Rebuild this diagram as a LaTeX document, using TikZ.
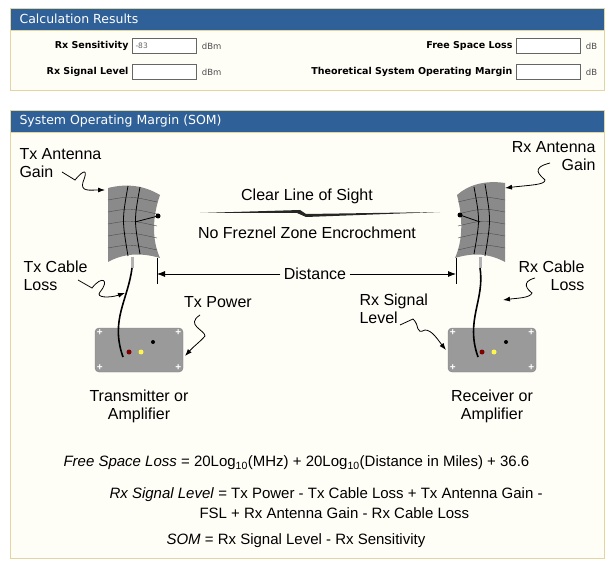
\documentclass[tikz,border=0pt]{standalone}
\usepackage{fontspec}
\setmainfont{Liberation Sans}
\newfontfamily\verd{DejaVu Sans}
\usetikzlibrary{arrows.meta}
\definecolor{barblue}{HTML}{2F6097}
\definecolor{frametan}{HTML}{E3D59F}
\definecolor{panelbg}{HTML}{FFFEF6}
\definecolor{antgray}{HTML}{8A8A8A}
\definecolor{devgray}{HTML}{9A9A9A}

\begin{document}
\begin{tikzpicture}[x=1pt,y=-1pt,
  header/.style={fill=barblue,draw=frametan},
  panel/.style={fill=panelbg,draw=frametan,thick},
  headtext/.style={anchor=west,text=white,font=\verd\fontsize{12.5}{14}\selectfont},
  formlabel/.style={anchor=east,font=\verd\bfseries\fontsize{9.5}{11}\selectfont},
  unit/.style={anchor=west,font=\verd\fontsize{8.5}{10}\selectfont,text=black!70},
  inbox/.style={draw=black!60,fill=white,minimum width=64pt,minimum height=15pt,inner sep=1pt},
  label/.style={font=\fontsize{16}{18}\selectfont,align=left},
  squig/.style={-{Latex[length=7pt,width=5pt]},thick},
  distarrow/.style={-{Latex[length=8pt,width=6pt]},thick},
  device/.style={fill=devgray,rounded corners=4pt,draw=black!50,minimum width=88pt,minimum height=44pt},
  formula/.style={anchor=west,font=\fontsize{15}{17}\selectfont}]
  \useasboundingbox (0,0) rectangle (614,567);
  \fill[white] (0,0) rectangle (614,567);

  % calculation results panel
  \draw[panel] (10,30) rectangle (604,90);
  \draw[header] (10,8) rectangle (604,30);
  \node[headtext] (calchead) at (16,19) {Calculation Results};

  \node[inbox,anchor=west] (sensbox) at (132,46) {};
  \node[anchor=west,font=\verd\fontsize{7.5}{9}\selectfont,text=black!60] at (sensbox.west) {-83};
  \node[formlabel] (senslbl) at (sensbox.west) {Rx Sensitivity};
  \node[unit] (sensunit) at ([xshift=2pt]sensbox.east) {dBm};
  \node[inbox,anchor=west] (levelbox) at (132,72) {};
  \node[formlabel] (levellbl) at (levelbox.west) {Rx Signal Level};
  \node[unit] (levelunit) at ([xshift=2pt]levelbox.east) {dBm};
  \node[inbox,anchor=west] (fslbox) at (516,46) {};
  \node[formlabel] (fsllbl) at (fslbox.west) {Free Space Loss};
  \node[unit] (fslunit) at ([xshift=2pt]fslbox.east) {dB};
  \node[inbox,anchor=west] (sombox) at (516,72) {};
  \node[formlabel] (somlbl) at (sombox.west) {Theoretical System Operating Margin};
  \node[unit] (somunit) at ([xshift=2pt]sombox.east) {dB};

  % SOM panel
  \draw[panel] (10,132) rectangle (604,558);
  \draw[header] (10,110) rectangle (604,132);
  \node[headtext] (somhead) at (16,121) {System Operating Margin (SOM)};

  % antennas
  \begin{scope}
    \fill[antgray] (108,188) .. controls (128,183) and (145,186) .. (160,195)
      .. controls (152,218) and (152,240) .. (160,258)
      .. controls (140,252) and (122,254) .. (108,262) -- cycle;
    \foreach \y in {200,212,224,236,248} \draw[black!70] (108,\y) .. controls (130,\y-4) .. (157,\y+2);
    \draw[thick] (128,186) .. controls (122,220) .. (128,256);
    \draw[thick] (140,187) .. controls (134,220) .. (140,254);
    \draw[thick] (135,222) -- (158,216);
    \fill (158,216) circle (2.5pt);
    \draw[black!30,line width=3pt] (132,257) -- (132,268);
  \end{scope}
  \begin{scope}
    \fill[antgray] (505,183) .. controls (485,180) and (468,185) .. (457,195)
      .. controls (463,218) and (463,240) .. (455,258)
      .. controls (475,252) and (490,254) .. (505,262) -- cycle;
    \foreach \y in {200,212,224,236,248} \draw[black!70] (505,\y) .. controls (483,\y-4) .. (458,\y+2);
    \draw[thick] (485,184) .. controls (491,220) .. (485,256);
    \draw[thick] (474,187) .. controls (480,220) .. (474,254);
    \draw[thick] (480,222) -- (460,215);
    \fill (460,215) circle (2.5pt);
    \draw[black!30,line width=3pt] (480,257) -- (480,268);
  \end{scope}

  % devices
  \node[device] (txdev) at (139,350) {};
  \node[device] (rxdev) at (492,350) {};
  \foreach \d in {txdev,rxdev} {
    \foreach \a/\b in {north west/{5pt,-5pt},north east/{-5pt,-5pt},south west/{5pt,5pt},south east/{-5pt,5pt}}
      \node[font=\bfseries,text=white,inner sep=0pt] at ([shift={(\b)}]\d.\a) {+};
    \fill[red!50!black] ([shift={(-10pt,-2pt)}]\d.center) circle (2.5pt);
    \fill[yellow!70] ([shift={(2pt,-2pt)}]\d.center) circle (2.5pt);
    \fill[black] ([shift={(14pt,8pt)}]\d.center) circle (2pt);
  }
  \draw[line width=1.6pt] (132,268) .. controls (128,300) and (110,320) .. (123,357);
  \draw[line width=1.6pt] (480,268) .. controls (485,300) and (465,320) .. (478,357);

  % line of sight
  \node[label] (clear) at (307,196) {Clear Line of Sight};
  \node[label] (fresnel) at (307,233) {No Freznel Zone Encrochment};
  \fill[black!85] (200,213) -- (300,210) -- (306,214) -- (440,212) -- (306,217) -- (297,213) -- cycle;

  % distance
  \coordinate (txbar) at (157,274);
  \coordinate (rxbar) at (456,274);
  \draw[thick] (157,258) -- (157,284);
  \draw[thick] (456,258) -- (456,284);
  \node[label,fill=panelbg] (dist) at (315,274) {Distance};
  \draw[distarrow] (dist.west) -- (txbar);
  \draw[distarrow] (dist.east) -- (rxbar);

  % labels and squiggle arrows
  \node[label,anchor=north west] (txgain) at (16,145) {Tx Antenna\\Gain};
  \draw[squig] (62,172) -- (75,180) .. controls (85,168) and (88,170) .. (83,182) .. controls (80,192) and (90,190) .. (105,190);
  \node[label,anchor=north west] (txcable) at (20,257) {Tx Cable\\Loss};
  \draw[squig] (78,280) -- (92,288) .. controls (102,275) and (110,280) .. (100,292) .. controls (95,298) and (110,298) .. (125,293);
  \node[label] (txpower) at (218,302) {Tx Power};
  \draw[squig] (200,315) .. controls (185,325) and (205,330) .. (205,336) .. controls (200,342) and (195,345) .. (185,356);
  \node[label,align=right,anchor=north east] (rxgain) at (599,138) {Rx Antenna\\Gain};
  \draw[squig] (550,163) .. controls (530,168) and (540,175) .. (545,180) .. controls (545,185) and (530,185) .. (505,188);
  \node[label,align=right,anchor=north east] (rxcable) at (588,257) {Rx Cable\\Loss};
  \draw[squig] (535,278) .. controls (520,282) and (528,290) .. (532,293) .. controls (530,298) and (518,298) .. (503,300);
  \node[label,align=left,anchor=north west] (rxlevel) at (356,290) {Rx Signal\\Level};
  \draw[squig] (400,325) -- (413,319) .. controls (420,325) and (415,335) .. (425,330) .. controls (432,330) and (438,340) .. (446,350);
  \node[label,align=center] (txname) at (139,406) {Transmitter or\\Amplifier};
  \node[label,align=center] (rxname) at (492,406) {Receiver or\\Amplifier};

  % formulas
  \node[formula] (fslform) at (60,463) {\textit{Free Space Loss} = 20Log\textsubscript{10}(MHz) + 20Log\textsubscript{10}(Distance in Miles) + 36.6};
  \node[formula] (rxform) at (106,495) {\textit{Rx Signal Level} = Tx Power - Tx Cable Loss + Tx Antenna Gain -};
  \node[formula] (rxform2) at (196,513) {FSL + Rx Antenna Gain - Rx Cable Loss};
  \node[formula] (somform) at (163,541) {\textit{SOM} = Rx Signal Level - Rx Sensitivity};
\end{tikzpicture}
\end{document}
